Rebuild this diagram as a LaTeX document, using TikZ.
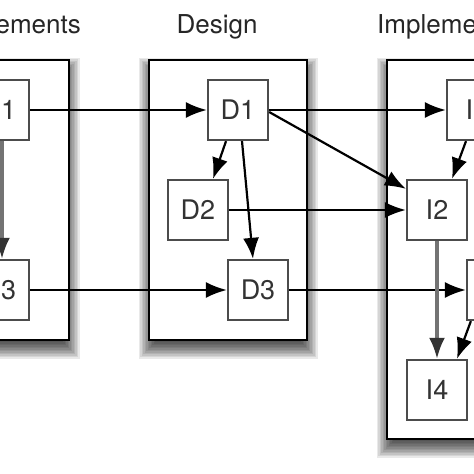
\documentclass[tikz,border=0pt]{standalone}
\usepackage{fontspec}
\setmainfont{TeX Gyre Heros}
\usetikzlibrary{arrows.meta,positioning}

\begin{document}
\begin{tikzpicture}[x=1pt, y=-1pt,
    box/.style={rectangle, draw=black!70, line width=2.3pt, fill=white, minimum size=60pt,
                inner sep=0pt, text=black!80, font=\fontsize{27}{30}\selectfont},
    phasetitle/.style={anchor=base, inner sep=0pt, text=black!85, font=\fontsize{26}{30}\selectfont},
    group/.style={draw=black, line width=1.8pt, fill=white},
    link/.style={-{Latex[length=21pt, width=16pt]}, line width=2.2pt, draw=black},
    flow/.style={-{Latex[length=21pt, width=16pt, color=black!80]}, line width=3.2pt, draw=black!55}
]
    \useasboundingbox (0,0) rectangle (474,474);
    \clip (0,0) rectangle (474,474);

    % Phase containers with soft shadows
    \foreach \xa/\ya/\xb/\yb in {-40/60/69/340, 149/60/307/340, 387/60/530/439} {
        \foreach \e in {-6,-4.5,...,10.5} {
            \fill[black, opacity=0.085] ({\xa-(\e)},{\ya+8-(\e)}) rectangle ({\xb+(\e)},{\yb+8+(\e)});
        }
        \draw[group] (\xa,\ya) rectangle (\xb,\yb);
    }

    % Phase titles
    \node[phasetitle, anchor=base east] (reqtitle) at (81,33) {Requirements};
    \node[phasetitle] (destitle) at (217,33) {Design};
    \node[phasetitle, anchor=base west] (imptitle) at (377,33) {Implementation};

    % Work items
    \node[box] (r1) at (-1,110) {R1};
    \node[box] (r3) at (-1,290) {R3};
    \node[box] (d1) at (238,110) {D1};
    \node[box] (d2) at (198,210) {D2};
    \node[box] (d3) at (258,290) {D3};
    \node[box] (i1) at (477,110) {I1};
    \node[box] (i2) at (437,210) {I2};
    \node[box] (i3) at (497,290) {I3};
    \node[box] (i4) at (437,390) {I4};

    % Dependencies across phases
    \draw[link] (r1) -- (d1);
    \draw[link] (d1) -- (i1);
    \draw[link] (d2) -- (i2);
    \draw[link] (r3) -- (d3);
    \draw[link] (d3) -- (i3);
    \draw[link] ([yshift=-2pt]d1.east) -- ([yshift=-10pt]i2.north west);

    % Dependencies within phases
    \draw[link] ([xshift=-12pt]d1.south) -- ([xshift=15pt]d2.north);
    \draw[link] ([xshift=4pt]d1.south) -- ([xshift=-5pt]d3.north);
    \draw[link] ([xshift=-11pt]i1.south) -- ([xshift=15pt]i2.north);
    \draw[link] ([xshift=5pt]i3.south west) -- ([xshift=20pt]i4.north);
    \draw[flow] ([xshift=3pt]r1.south) -- ([xshift=3pt]r3.north);
    \draw[flow] (i2) -- (i4);
\end{tikzpicture}
\end{document}
